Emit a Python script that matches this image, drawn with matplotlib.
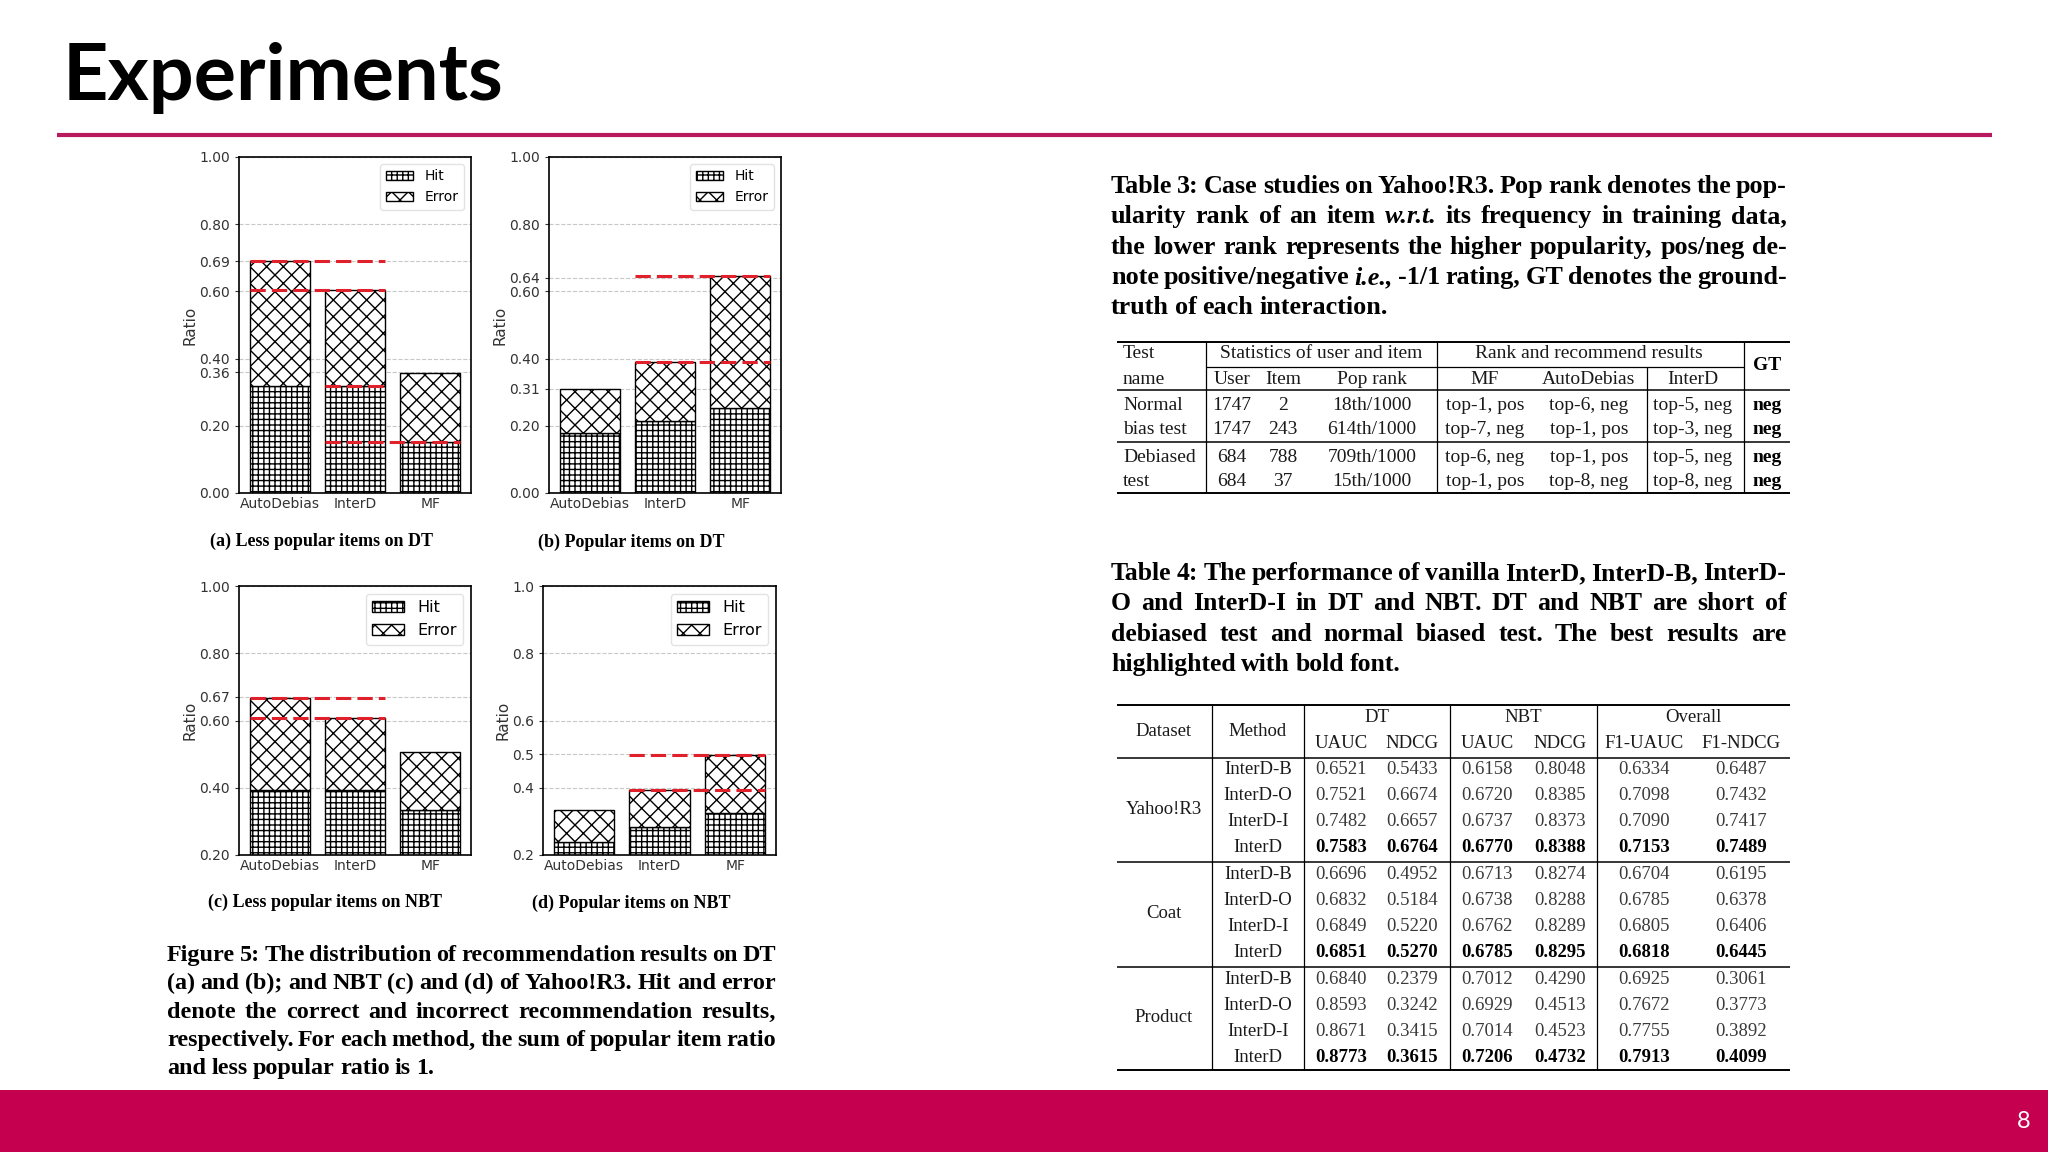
import matplotlib
matplotlib.use("Agg")
import matplotlib.pyplot as plt
from matplotlib.patches import Rectangle
from matplotlib.ticker import FormatStrFormatter

W, H = 2048, 1152
SERIF = "Liberation Serif"
ACCENT = "#C4004F"

# ---- chart data (fig. 5) ----
methods = ["AutoDebias", "InterD", "MF"]

a_total = [0.69, 0.605, 0.356]
a_hit = [0.317, 0.317, 0.153]
a_ticks = [0.0, 0.2, 0.36, 0.4, 0.6, 0.69, 0.8, 1.0]
a_ref_y = [0.69, 0.605, 0.317, 0.153]
a_ref_from = [0, 0, 1, 1]
a_ref_to = [1, 1, 1, 2]

b_total = [0.31, 0.39, 0.645]
b_hit = [0.178, 0.213, 0.252]
b_ticks = [0.0, 0.2, 0.31, 0.4, 0.6, 0.64, 0.8, 1.0]
b_ref_y = [0.645, 0.39]
b_ref_from = [1, 1]
b_ref_to = [2, 2]

c_total = [0.668, 0.606, 0.507]
c_hit = [0.393, 0.393, 0.334]
c_ticks = [0.2, 0.4, 0.6, 0.67, 0.8, 1.0]
c_ref_y = [0.668, 0.606]
c_ref_from = [0, 0]
c_ref_to = [1, 1]

d_total = [0.334, 0.393, 0.497]
d_hit = [0.24, 0.284, 0.326]
d_ticks = [0.2, 0.4, 0.5, 0.6, 0.8, 1.0]
d_ref_y = [0.497, 0.393]
d_ref_from = [1, 1]
d_ref_to = [2, 2]

sub_captions = ["(a) Less popular items on DT", "(b) Popular items on DT",
                "(c) Less popular items on NBT", "(d) Popular items on NBT"]

# ---- table 3 ----
t3_head1 = ["Test", "Statistics of user and item", "Rank and recommend results", "GT"]
t3_head2 = ["name", "User", "Item", "Pop rank", "MF", "AutoDebias", "InterD"]
t3_names = ["Normal", "bias test", "Debiased", "test"]
t3_user = ["1747", "1747", "684", "684"]
t3_item = ["2", "243", "788", "37"]
t3_pop = ["18th/1000", "614th/1000", "709th/1000", "15th/1000"]
t3_mf = ["top-1, pos", "top-7, neg", "top-6, neg", "top-1, pos"]
t3_auto = ["top-6, neg", "top-1, pos", "top-1, pos", "top-8, neg"]
t3_interd = ["top-5, neg", "top-3, neg", "top-5, neg", "top-8, neg"]
t3_gt = ["neg", "neg", "neg", "neg"]

# ---- table 4 ----
t4_datasets = ["Yahoo!R3", "Coat", "Product"]
t4_methods = ["InterD-B", "InterD-O", "InterD-I", "InterD"]
t4_groups = ["DT", "NBT", "Overall"]
t4_metrics = ["UAUC", "NDCG", "UAUC", "NDCG", "F1-UAUC", "F1-NDCG"]
yahoo_vals = [[0.6521, 0.5433, 0.6158, 0.8048, 0.6334, 0.6487],
              [0.7521, 0.6674, 0.6720, 0.8385, 0.7098, 0.7432],
              [0.7482, 0.6657, 0.6737, 0.8373, 0.7090, 0.7417],
              [0.7583, 0.6764, 0.6770, 0.8388, 0.7153, 0.7489]]
coat_vals = [[0.6696, 0.4952, 0.6713, 0.8274, 0.6704, 0.6195],
             [0.6832, 0.5184, 0.6738, 0.8288, 0.6785, 0.6378],
             [0.6849, 0.5220, 0.6762, 0.8289, 0.6805, 0.6406],
             [0.6851, 0.5270, 0.6785, 0.8295, 0.6818, 0.6445]]
product_vals = [[0.6840, 0.2379, 0.7012, 0.4290, 0.6925, 0.3061],
                [0.8593, 0.3242, 0.6929, 0.4513, 0.7672, 0.3773],
                [0.8671, 0.3415, 0.7014, 0.4523, 0.7755, 0.3892],
                [0.8773, 0.3615, 0.7206, 0.4732, 0.7913, 0.4099]]

fig5_caption = [
    "Figure 5: The distribution of recommendation results on DT",
    "(a) and (b); and NBT (c) and (d) of Yahoo!R3. Hit and error",
    "denote the correct and incorrect recommendation results,",
    "respectively. For each method, the sum of popular item ratio",
    "and less popular ratio is 1.",
]
t3_caption = [
    "Table 3: Case studies on Yahoo!R3. Pop rank denotes the pop-",
    "ularity rank of an item *w.r.t.* its frequency in training data,",
    "the lower rank represents the higher popularity, pos/neg de-",
    "note positive/negative *i.e.,* -1/1 rating, GT denotes the ground-",
    "truth of each interaction.",
]
t4_caption = [
    "Table 4: The performance of vanilla InterD, InterD-B, InterD-",
    "O and InterD-I in DT and NBT. DT and NBT are short of",
    "debiased test and normal biased test. The best results are",
    "highlighted with bold font.",
]

fig = plt.figure(figsize=(W / 100, H / 100), dpi=100)
bg = fig.add_axes([0, 0, 1, 1], zorder=0)
bg.set_xlim(0, W)
bg.set_ylim(H, 0)
bg.axis("off")
renderer = fig.canvas.get_renderer()

# slide frame
bg.text(63, 100, "Experiments", fontsize=57, fontweight="bold", family="Lato", va="baseline")
bg.plot([57, 1992], [134.5, 134.5], color="#B81A5E", lw=3, solid_capstyle="butt")
bg.add_patch(Rectangle((0, 1090), W, 62, color=ACCENT, lw=0))
bg.text(2024, 1122, "8", color="white", fontsize=17, family="Lato", ha="center", va="center")


def px_axes(l, t, r, b):
    return fig.add_axes([l / W, 1 - b / H, (r - l) / W, (b - t) / H], zorder=2)


def draw_chart(ax, total, hit, ylo, ticks, fmt, ref_y, ref_from, ref_to, legsize):
    x = list(range(len(methods)))
    err = [t - h for t, h in zip(total, hit)]
    b1 = ax.bar(x, hit, 0.8, color="white", edgecolor="black", hatch="+++", lw=1.0)
    b2 = ax.bar(x, err, 0.8, bottom=hit, color="white", edgecolor="black", hatch="xx", lw=1.0)
    for y, f, t in zip(ref_y, ref_from, ref_to):
        ax.plot([f - 0.4, t + 0.4], [y, y], color="#E0202A", lw=2.2,
                linestyle=(0, (5, 2)), zorder=5)
    ax.set_ylim(ylo, 1.0)
    ax.set_yticks(ticks)
    ax.yaxis.set_major_formatter(FormatStrFormatter(fmt))
    ax.set_xticks(x)
    ax.set_xticklabels(methods)
    ax.tick_params(labelsize=10, colors="#333333", length=3)
    ax.tick_params(axis="x", length=0, pad=3)
    ax.set_ylabel("Ratio", fontsize=11, color="#333333", labelpad=1)
    ax.grid(axis="y", linestyle="--", color="#c8c8c8", lw=0.8)
    ax.set_axisbelow(True)
    for s in ax.spines.values():
        s.set_linewidth(1.2)
    ax.legend([b1, b2], ["Hit", "Error"], loc="upper right", fontsize=legsize,
              edgecolor="#dddddd", handlelength=2.0)


ax_a = px_axes(239, 157, 471, 493)
draw_chart(ax_a, a_total, a_hit, 0.0, a_ticks, "%.2f", a_ref_y, a_ref_from, a_ref_to, 10)
ax_b = px_axes(549, 157, 781, 493)
draw_chart(ax_b, b_total, b_hit, 0.0, b_ticks, "%.2f", b_ref_y, b_ref_from, b_ref_to, 10)
ax_c = px_axes(239, 586, 471, 855)
draw_chart(ax_c, c_total, c_hit, 0.2, c_ticks, "%.2f", c_ref_y, c_ref_from, c_ref_to, 11.5)
ax_d = px_axes(543, 586, 776, 855)
draw_chart(ax_d, d_total, d_hit, 0.2, d_ticks, "%.1f", d_ref_y, d_ref_from, d_ref_to, 11.5)

for (cx, cy), s in zip([(322, 541), (631, 542), (325, 902), (631, 903)], sub_captions):
    bg.text(cx, cy, s, family=SERIF, fontweight="bold", fontsize=13, ha="center", va="center")


def paragraph(lines, x0, x1, y0, dy, size):
    def make(line, fs):
        parts = []
        for w in line.split(" "):
            st = "normal"
            if w.startswith("*"):
                st = "italic"
                w = w.strip("*")
            parts.append(bg.text(0, 0, w, fontsize=fs, family=SERIF, fontweight="bold",
                                 style=st, va="baseline"))
        return parts

    sp = size * 100 / 72 * 0.2
    widest = 0
    for line in lines[:-1]:
        ts = make(line, size)
        tot = sum(t.get_window_extent(renderer).width for t in ts) + sp * (len(ts) - 1)
        for t in ts:
            t.remove()
        widest = max(widest, tot)
    fs = size * min(1.0, (x1 - x0) / widest)
    for i, line in enumerate(lines):
        ts = make(line, fs)
        ws = [t.get_window_extent(renderer).width for t in ts]
        if i < len(lines) - 1 and len(ts) > 1:
            gap = (x1 - x0 - sum(ws)) / (len(ts) - 1)
        else:
            gap = fs * 100 / 72 * 0.22
        x = x0
        for t, w in zip(ts, ws):
            t.set_position((x, y0 + i * dy))
            x += w + gap


paragraph(fig5_caption, 167, 776, 961, 28.3, 22)
paragraph(t3_caption, 1111, 1787, 193, 30.3, 22)
paragraph(t4_caption, 1111, 1786, 580, 30.3, 22)


def txt(x, y, s, size, ha="center", bold=False, color="#1a1a1a"):
    bg.text(x, y, s, family=SERIF, fontsize=size, ha=ha, va="center",
            fontweight="bold" if bold else "normal", color="black" if bold else color)


def hl(x0, x1, y, lw=0.9):
    bg.plot([x0, x1], [y, y], color="black", lw=lw, solid_capstyle="butt")


def vl(x, y0, y1, lw=0.9):
    bg.plot([x, x], [y0, y1], color="black", lw=lw, solid_capstyle="butt")


# ---- table 3 ----
F3 = 14
L3, R3 = 1117, 1790
hl(L3, R3, 342, 1.4)
hl(1206, 1744, 367)
hl(L3, R3, 390, 1.1)
hl(L3, R3, 442, 1.1)
hl(L3, R3, 493, 1.4)
vl(1206, 342, 493)
vl(1437, 342, 493)
vl(1647, 367, 493)
vl(1744, 342, 493)
txt(1123, 353, t3_head1[0], F3, ha="left")
txt(1321, 353, t3_head1[1], F3)
txt(1589, 353, t3_head1[2], F3)
txt(1767, 365, t3_head1[3], F3, bold=True)
txt(1123, 379, t3_head2[0], F3, ha="left")
t3_cols = [1232, 1283, 1372, 1485, 1589, 1693]
for x, s in zip(t3_cols, t3_head2[1:]):
    txt(x, 379, s, F3)
for i in range(4):
    y = 405 + i * 25 + (2 if i >= 2 else 0)
    txt(1123, y, t3_names[i], F3, ha="left")
    for x, col in zip(t3_cols, [t3_user, t3_item, t3_pop, t3_mf, t3_auto, t3_interd]):
        txt(x, y, col[i], F3)
    txt(1767, y, t3_gt[i], F3, bold=True)

# ---- table 4 ----
F4 = 13.5
L4, R4 = 1117, 1790
hl(L4, R4, 705, 1.4)
hl(L4, R4, 758, 1.1)
hl(L4, R4, 862, 1.1)
hl(L4, R4, 967, 1.1)
hl(L4, R4, 1070, 1.4)
for x in [1212, 1304, 1450, 1597]:
    vl(x, 705, 1070)
txt(1164, 732, "Dataset", F4)
txt(1258, 732, "Method", F4)
for x, s in zip([1377, 1523, 1693], t4_groups):
    txt(x, 718, s, F4)
col_x = [1341, 1412, 1487, 1560, 1644, 1741]
for x, s in zip(col_x, t4_metrics):
    txt(x, 744, s, F4)
for g, (name, vals) in enumerate(zip(t4_datasets, [yahoo_vals, coat_vals, product_vals])):
    y0 = 770 + g * 104.5
    txt(1164, y0 + 1.5 * 26, name, F4)
    for i, m in enumerate(t4_methods):
        y = y0 + i * 26
        best = m == "InterD"
        txt(1258, y, m, F4)
        for x, v in zip(col_x, vals[i]):
            txt(x, y, f"{v:.4f}", F4, bold=best, color="#3a3a3a")

fig.savefig("out.png", dpi=100)
